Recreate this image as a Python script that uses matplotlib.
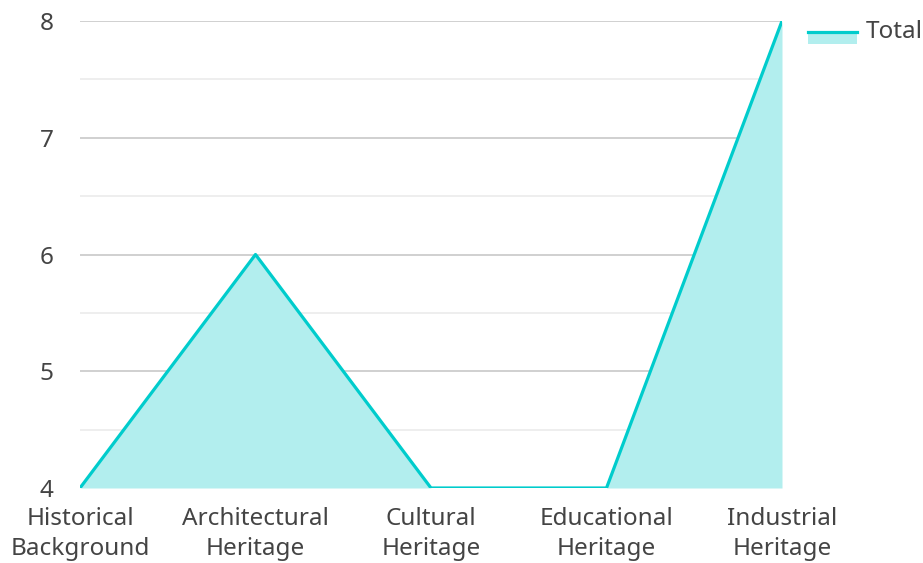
import matplotlib.pyplot as plt
from matplotlib.lines import Line2D
from matplotlib.patches import Rectangle
from matplotlib.ticker import MultipleLocator

plt.rcParams["font.family"] = ["Noto Sans", "DejaVu Sans"]

categories = ["Historical\nBackground", "Architectural\nHeritage", "Cultural\nHeritage",
              "Educational\nHeritage", "Industrial\nHeritage"]
totals = [4, 6, 4, 4, 8]
y_ticks = [4, 5, 6, 7, 8]

LINE_COL = "#00cccc"
FILL_COL = "#b2eeee"
TEXT_COL = "#444444"
FS = 17.5

fig = plt.figure(figsize=(9.23, 5.63), dpi=100)
ax = fig.add_axes([80 / 923, 75 / 563, 702 / 923, 467 / 563])

x = list(range(len(categories)))
ax.fill_between(x, totals, 4, color=FILL_COL, lw=0, zorder=2)
ax.plot(x, totals, color=LINE_COL, lw=2.3, zorder=3, solid_capstyle="round")

ax.set_xlim(0, len(categories) - 1)
ax.set_ylim(4, 8)
ax.set_yticks(y_ticks)
ax.yaxis.set_minor_locator(MultipleLocator(0.5))
ax.grid(which="major", axis="y", color="#c8c8c8", lw=1.2, zorder=1)
ax.grid(which="minor", axis="y", color="#ebebeb", lw=1.2, zorder=1)
ax.set_xticks(x)
ax.set_xticklabels(categories, linespacing=1.32)
ax.tick_params(axis="both", which="both", length=0, labelsize=FS, colors=TEXT_COL)
ax.tick_params(axis="y", pad=19)
ax.tick_params(axis="x", pad=14)
for s in ax.spines.values():
    s.set_visible(False)

# legend drawn by hand: filled patch with line on its top edge
fig.patches.append(Rectangle((808 / 923, 1 - 44 / 563), 49 / 923, 13 / 563,
                             transform=fig.transFigure, color=FILL_COL, lw=0))
fig.lines.append(Line2D([808 / 923, 857 / 923], [1 - 32 / 563, 1 - 32 / 563],
                        transform=fig.transFigure, color=LINE_COL, lw=2.3))
fig.text(866 / 923, 1 - 32 / 563, "Total", fontsize=FS, color=TEXT_COL, va="center", ha="left")

fig.savefig("out.png", dpi=100)
